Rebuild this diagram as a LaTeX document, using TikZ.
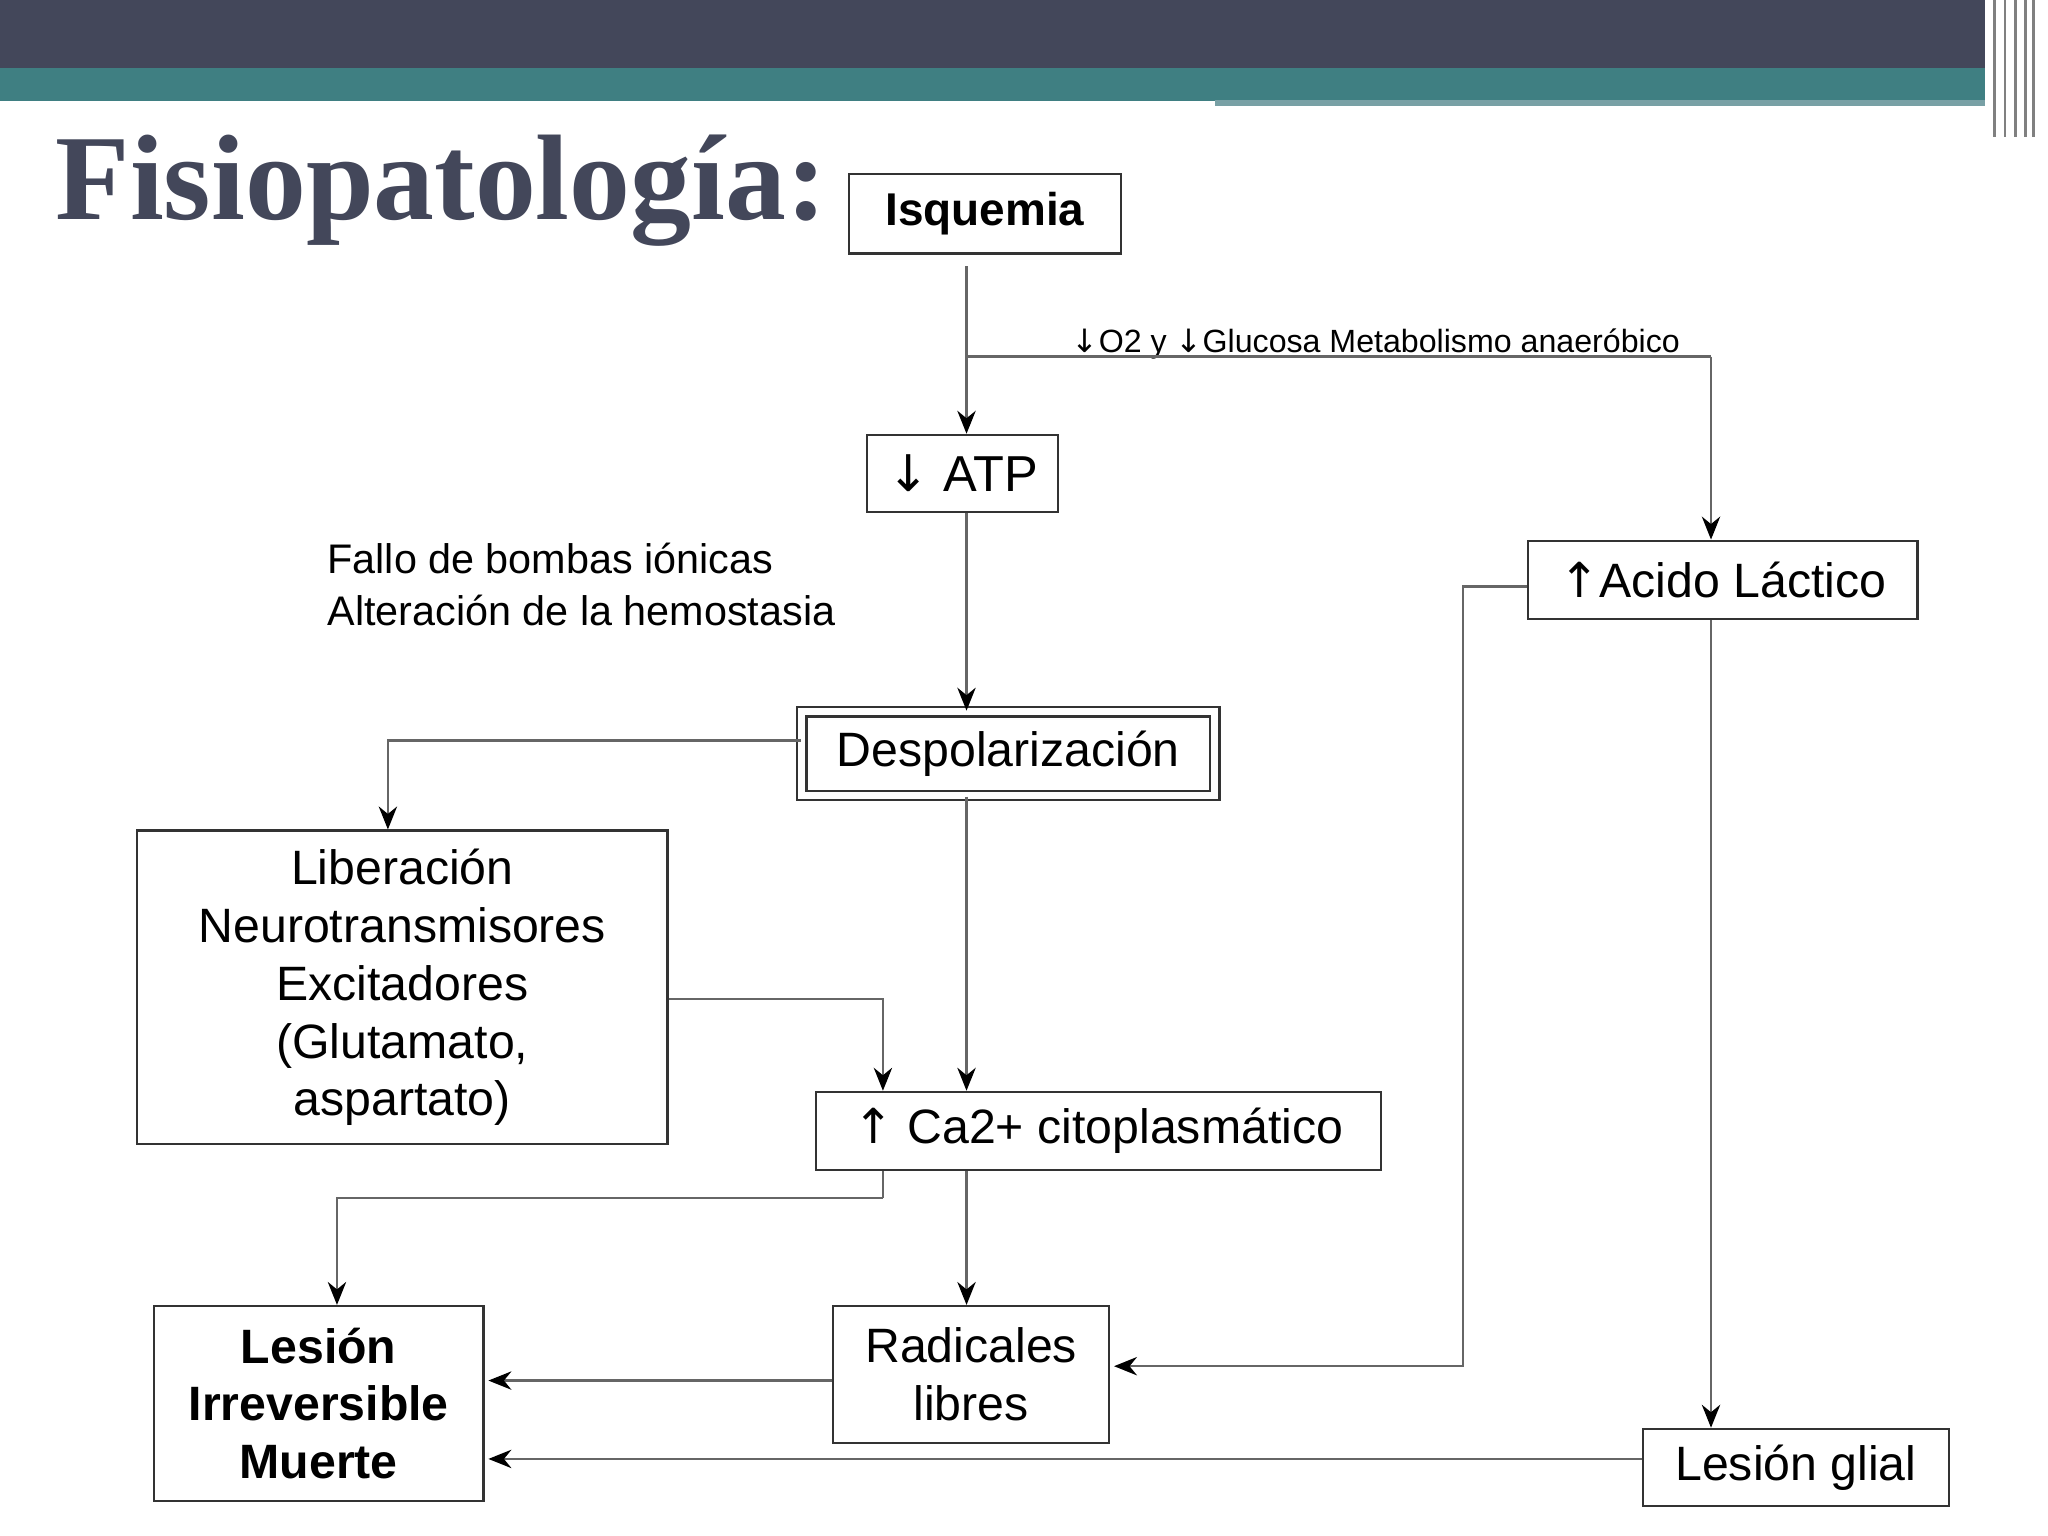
\documentclass[tikz,border=0pt]{standalone}
\usepackage{fontspec}
\setmainfont{Liberation Sans}
\newfontfamily\titlefont{Liberation Serif}
\newfontfamily\symfont{DejaVu Sans}
\usetikzlibrary{arrows.meta}
\definecolor{slate}{RGB}{67,71,90}
\definecolor{tealbar}{RGB}{63,127,130}
\definecolor{lightteal}{RGB}{120,160,165}
\begin{document}
\begin{tikzpicture}[x=0.01cm,y=-0.01cm,
  bx/.style={draw=black!80,line width=0.5pt,align=center,inner sep=0pt},
  ln/.style={draw=black!60,line width=0.5pt},
  ar/.style={ln,-{Stealth[length=5pt,width=4pt,black]}}]
\useasboundingbox (0,0) rectangle (1568,1176);
\fill[white] (0,0) rectangle (1568,1176);
\fill[slate] (0,0) rectangle (1520,52);
\fill[tealbar] (0,52) rectangle (1520,77);
\draw[lightteal,line width=1.2pt] (930,79) -- (1520,79);
\foreach \x in {1527,1535,1543,1551,1557} \draw[black!50,line width=0.6pt] (\x,0) -- (\x,105);
\node[anchor=base west,inner sep=0pt,text=slate,font=\titlefont\bfseries\fontsize{26.5}{30}\selectfont] (title) at (42,168) {Fisiopatología:};
% boxes
\node[bx,minimum width=2.08cm,minimum height=0.61cm,font=\bfseries\fontsize{10}{12}\selectfont] (isq) at (754,163.5) {Isquemia};
\node[bx,minimum width=1.46cm,minimum height=0.59cm,font=\fontsize{11}{13}\selectfont] (atp) at (737,362.5) {{\symfont↓} ATP};
\node[bx,minimum width=2.98cm,minimum height=0.60cm,font=\fontsize{10.5}{13}\selectfont] (aci) at (1319,444) {{\symfont↑}Acido Láctico};
\node[bx,double,double distance=1.5pt,minimum width=3.16cm,minimum height=0.64cm,font=\fontsize{10.5}{13}\selectfont] (dep) at (772,577) {Despolarización};
\node[bx,minimum width=4.06cm,minimum height=2.40cm,font=\fontsize{10.5}{12.6}\selectfont] (lib) at (308,756) {Liberación\\Neurotransmisores\\Excitadores\\(Glutamato,\\aspartato)};
\node[bx,minimum width=4.32cm,minimum height=0.60cm,font=\fontsize{10.5}{13}\selectfont] (ca) at (841,866) {{\symfont↑} Ca2+ citoplasmático};
\node[bx,minimum width=2.52cm,minimum height=1.49cm,font=\bfseries\fontsize{10.5}{12.6}\selectfont] (les) at (244,1074.5) {Lesión\\Irreversible\\Muerte};
\node[bx,minimum width=2.11cm,minimum height=1.05cm,font=\fontsize{10.5}{12.6}\selectfont] (rad) at (743.5,1052.5) {Radicales\\libres};
\node[bx,minimum width=2.34cm,minimum height=0.59cm,font=\fontsize{10.5}{13}\selectfont] (gli) at (1375,1123.5) {Lesión glial};
% labels
\node[anchor=base west,inner sep=0pt,font=\fontsize{7}{8}\selectfont] (lab1) at (820,270) {{\symfont↓}O2 y {\symfont↓}Glucosa Metabolismo anaeróbico};
\node[anchor=north west,align=left,inner sep=0pt,font=\fontsize{9}{11.3}\selectfont] (lab2) at (250,415) {Fallo de bombas iónicas\\Alteración de la hemostasia};
% connectors
\coordinate (j1) at (740,273);
\coordinate (isqb) at (740,204);
\coordinate (aciT) at (1310,273);
\draw[ar] (isqb) -- (atp.north -| j1);
\draw[ln] (j1) -- (aciT);
\draw[ar] (aciT) -- (aci.north -| aciT);
\draw[ar] (atp.south -| j1) -- (dep.north -| j1);
\coordinate (d1) at (297,567);
\draw[ar] (dep.west |- d1) -- (d1) -- (lib.north -| d1);
\draw[ar] (dep.south -| j1) -- (ca.north -| j1);
\coordinate (l1) at (676,765);
\draw[ar] (lib.east |- l1) -- (l1) -- (ca.north -| l1);
\coordinate (c1) at (676,917);
\coordinate (c2) at (258,917);
\draw[ln] (ca.south -| c1) -- (c1);
\draw[ar] (c1) -- (c2) -- (les.north -| c2);
\draw[ar] (ca.south -| j1) -- (rad.north -| j1);
\coordinate (a1) at (1120,449);
\coordinate (a2) at (1120,1046);
\draw[ar] (aci.west |- a1) -- (a1) -- (a2) -- ([xshift=0.03cm]rad.east |- a2);
\draw[ar] (aci.south -| aciT) -- (gli.north -| aciT);
\coordinate (r1) at (0,1057);
\draw[ar] (rad.west |- r1) -- ([xshift=0.03cm]les.east |- r1);
\coordinate (g1) at (0,1117);
\draw[ar] (gli.west |- g1) -- ([xshift=0.03cm]les.east |- g1);
\end{tikzpicture}
\end{document}
